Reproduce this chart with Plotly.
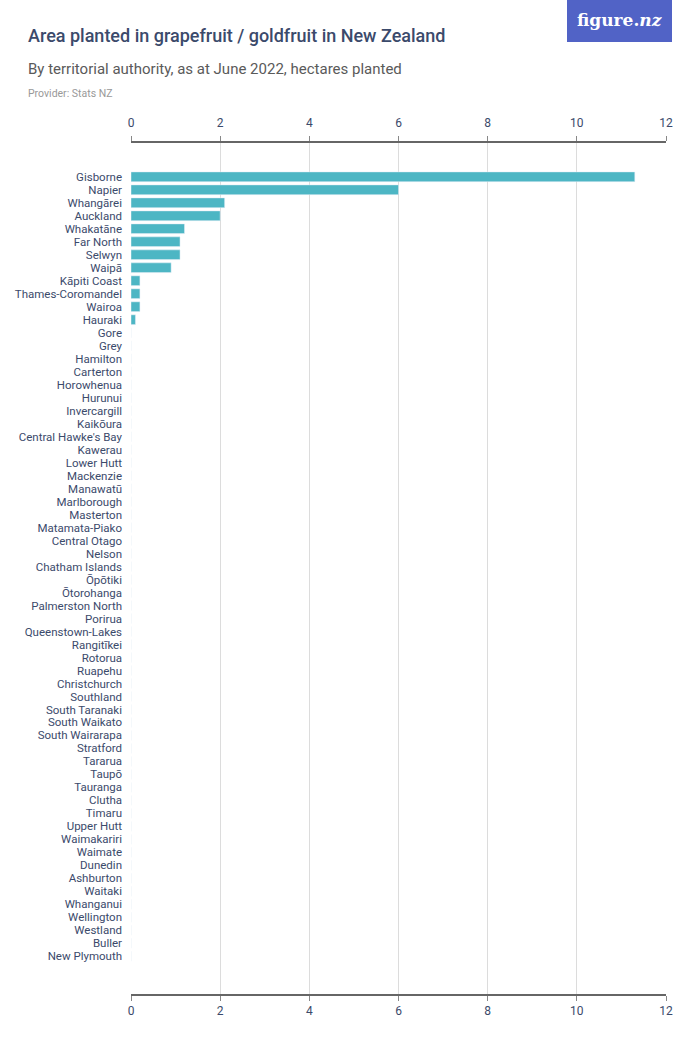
import plotly.graph_objects as go

categories = ["Gisborne", "Napier", "Whangārei", "Auckland", "Whakatāne", "Far North", "Selwyn", "Waipā",
              "Kāpiti Coast", "Thames-Coromandel", "Wairoa", "Hauraki", "Gore", "Grey", "Hamilton", "Carterton",
              "Horowhenua", "Hurunui", "Invercargill", "Kaikōura", "Central Hawke's Bay", "Kawerau", "Lower Hutt",
              "Mackenzie", "Manawatū", "Marlborough", "Masterton", "Matamata-Piako", "Central Otago", "Nelson",
              "Chatham Islands", "Ōpōtiki", "Ōtorohanga", "Palmerston North", "Porirua", "Queenstown-Lakes",
              "Rangitīkei", "Rotorua", "Ruapehu", "Christchurch", "Southland", "South Taranaki", "South Waikato",
              "South Wairarapa", "Stratford", "Tararua", "Taupō", "Tauranga", "Clutha", "Timaru", "Upper Hutt",
              "Waimakariri", "Waimate", "Dunedin", "Ashburton", "Waitaki", "Whanganui", "Wellington", "Westland",
              "Buller", "New Plymouth"]
hectares = [11.3, 6.0, 2.1, 2.0, 1.2, 1.1, 1.1, 0.9, 0.2, 0.2, 0.2, 0.1] + [0] * 49
tick_vals = [0, 2, 4, 6, 8, 10, 12]

TEXT = "#3b4a6b"
FONT = "Roboto, sans-serif"

fig = go.Figure()
fig.add_trace(go.Bar(x=hectares, y=categories, orientation="h", marker_color="#4db6c4",
                     marker_line_width=0, width=0.75, showlegend=False, hoverinfo="x+y"))
fig.add_trace(go.Bar(x=hectares, y=categories, orientation="h", xaxis="x2", marker_color="rgba(0,0,0,0)",
                     width=0.75, showlegend=False, hoverinfo="skip"))

axis_common = dict(range=[0, 12], tickvals=tick_vals, showgrid=True, gridcolor="#dcdcdc", gridwidth=1,
                   showline=True, linecolor="#666666", linewidth=1.5, ticks="outside", ticklen=5,
                   tickcolor="#888888", tickfont=dict(family=FONT, size=12, color=TEXT), zeroline=False,
                   fixedrange=True)

fig.update_layout(
    width=700, height=1050,
    margin=dict(l=131, r=34, t=143, b=56),
    paper_bgcolor="white", plot_bgcolor="white",
    barmode="overlay",
    xaxis=dict(side="bottom", **axis_common),
    xaxis2=dict(side="top", overlaying="x", ticklabelstandoff=4, **axis_common),
    yaxis=dict(type="category", categoryorder="array", categoryarray=categories,
               tickmode="linear", tick0=0, dtick=1,
               range=[62.9, -2.6], showgrid=False, zeroline=False, showline=False, ticks="",
               tickfont=dict(family=FONT, size=11.5, color=TEXT), ticklabelstandoff=8, fixedrange=True),
    font=dict(family=FONT, color=TEXT),
)

fig.add_annotation(text="Area planted in grapefruit / goldfruit in New Zealand", xref="paper", yref="paper",
                   x=(26 - 131) / 535, y=(994 - 36) / 851, xanchor="left", yanchor="middle", showarrow=False,
                   font=dict(family=FONT, size=18, color=TEXT, weight=500))
fig.add_annotation(text="By territorial authority, as at June 2022, hectares planted", xref="paper", yref="paper",
                   x=(26 - 131) / 535, y=(994 - 69) / 851, xanchor="left", yanchor="middle", showarrow=False,
                   font=dict(family=FONT, size=15, color="#5a5a5a"))
fig.add_annotation(text="Provider: Stats NZ", xref="paper", yref="paper",
                   x=(26 - 131) / 535, y=(994 - 94) / 851, xanchor="left", yanchor="middle", showarrow=False,
                   font=dict(family=FONT, size=10.5, color="#999999"))

fig.add_shape(type="rect", xref="paper", yref="paper",
              x0=(567 - 131) / 535, x1=(672 - 131) / 535, y0=(994 - 42) / 851, y1=(994 + 5) / 851,
              fillcolor="#5163c6", line_width=0, layer="above")
fig.add_annotation(text="<b>figure.<i>nz</i></b>", xref="paper", yref="paper",
                   x=(619 - 131) / 535, y=(994 - 20) / 851, xanchor="center", yanchor="middle", showarrow=False,
                   font=dict(family="DejaVu Serif, serif", size=17, color="white"))

fig.write_html("out.html")
